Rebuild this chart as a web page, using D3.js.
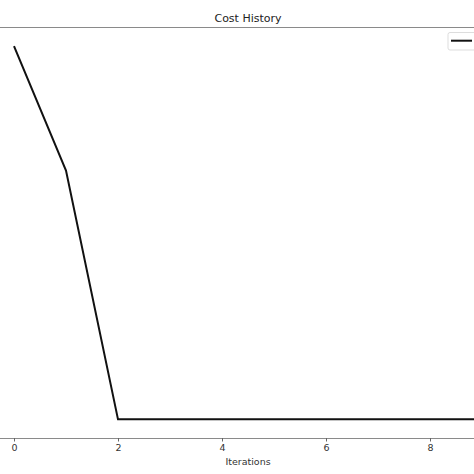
<!DOCTYPE html>
<html><head><meta charset="utf-8">
<script src="https://cdn.jsdelivr.net/npm/d3@7"></script>
<style>html,body{margin:0;padding:0;background:#fff;overflow:hidden}</style>
</head><body>
<svg id="c" width="474" height="474"></svg>
<script>
const iterations = [0,1,2,3,4,5,6,7,8,9];
const cost = [0.300, 0.200, 0.0, 0.0, 0.0, 0.0, 0.0, 0.0, 0.0, 0.0];
const xTicks = [0,2,4,6,8];
const title = "Cost History";
const xLabel = "Iterations";

const svg = d3.select("#c");
const plotTop = 27.5, plotBottom = 438;
const x = d3.scaleLinear().domain([-0.45, 9.45]).range([14 - 0.45*52, 14 + 9.45*52]);
const ymin = d3.min(cost), ymax = d3.max(cost), pad = (ymax - ymin) * 0.05;
const y = d3.scaleLinear().domain([ymin - pad, ymax + pad]).range([plotBottom, plotTop]);

svg.append("line").attr("x1",0).attr("x2",474).attr("y1",plotTop).attr("y2",plotTop)
  .attr("stroke","#8a8a8a").attr("stroke-width",1.2);

const ax = svg.append("g").attr("transform",`translate(0,${plotBottom})`)
  .call(d3.axisBottom(x).tickValues(xTicks).tickSize(3.5).tickPadding(3).tickFormat(d3.format("d")));
ax.select(".domain").attr("stroke","#8a8a8a").attr("stroke-width",1.2);
ax.selectAll(".tick line").attr("stroke","#666");
ax.selectAll(".tick text").attr("fill","#333").style("font-family","DejaVu Sans").style("font-size","9.5px");

svg.append("text").attr("x",248).attr("y",22).attr("text-anchor","middle")
  .style("font-family","DejaVu Sans").style("font-size","11px").attr("fill","#222").text(title);
svg.append("text").attr("x",248).attr("y",465).attr("text-anchor","middle")
  .style("font-family","DejaVu Sans").style("font-size","9.5px").attr("fill","#333").text(xLabel);

svg.append("path").datum(iterations.map((d,i)=>[d,cost[i]]))
  .attr("d", d3.line().x(d=>x(d[0])).y(d=>y(d[1])))
  .attr("fill","none").attr("stroke","#111").attr("stroke-width",2).attr("stroke-linejoin","miter");

const lg = svg.append("g");
lg.append("rect").attr("x",448).attr("y",32.5).attr("width",40).attr("height",17.5).attr("rx",2)
  .attr("fill","#fff").attr("stroke","#ddd").attr("stroke-width",1);
lg.append("line").attr("x1",451).attr("x2",472).attr("y1",40.7).attr("y2",40.7)
  .attr("stroke","#111").attr("stroke-width",2);
</script>
</body></html>
